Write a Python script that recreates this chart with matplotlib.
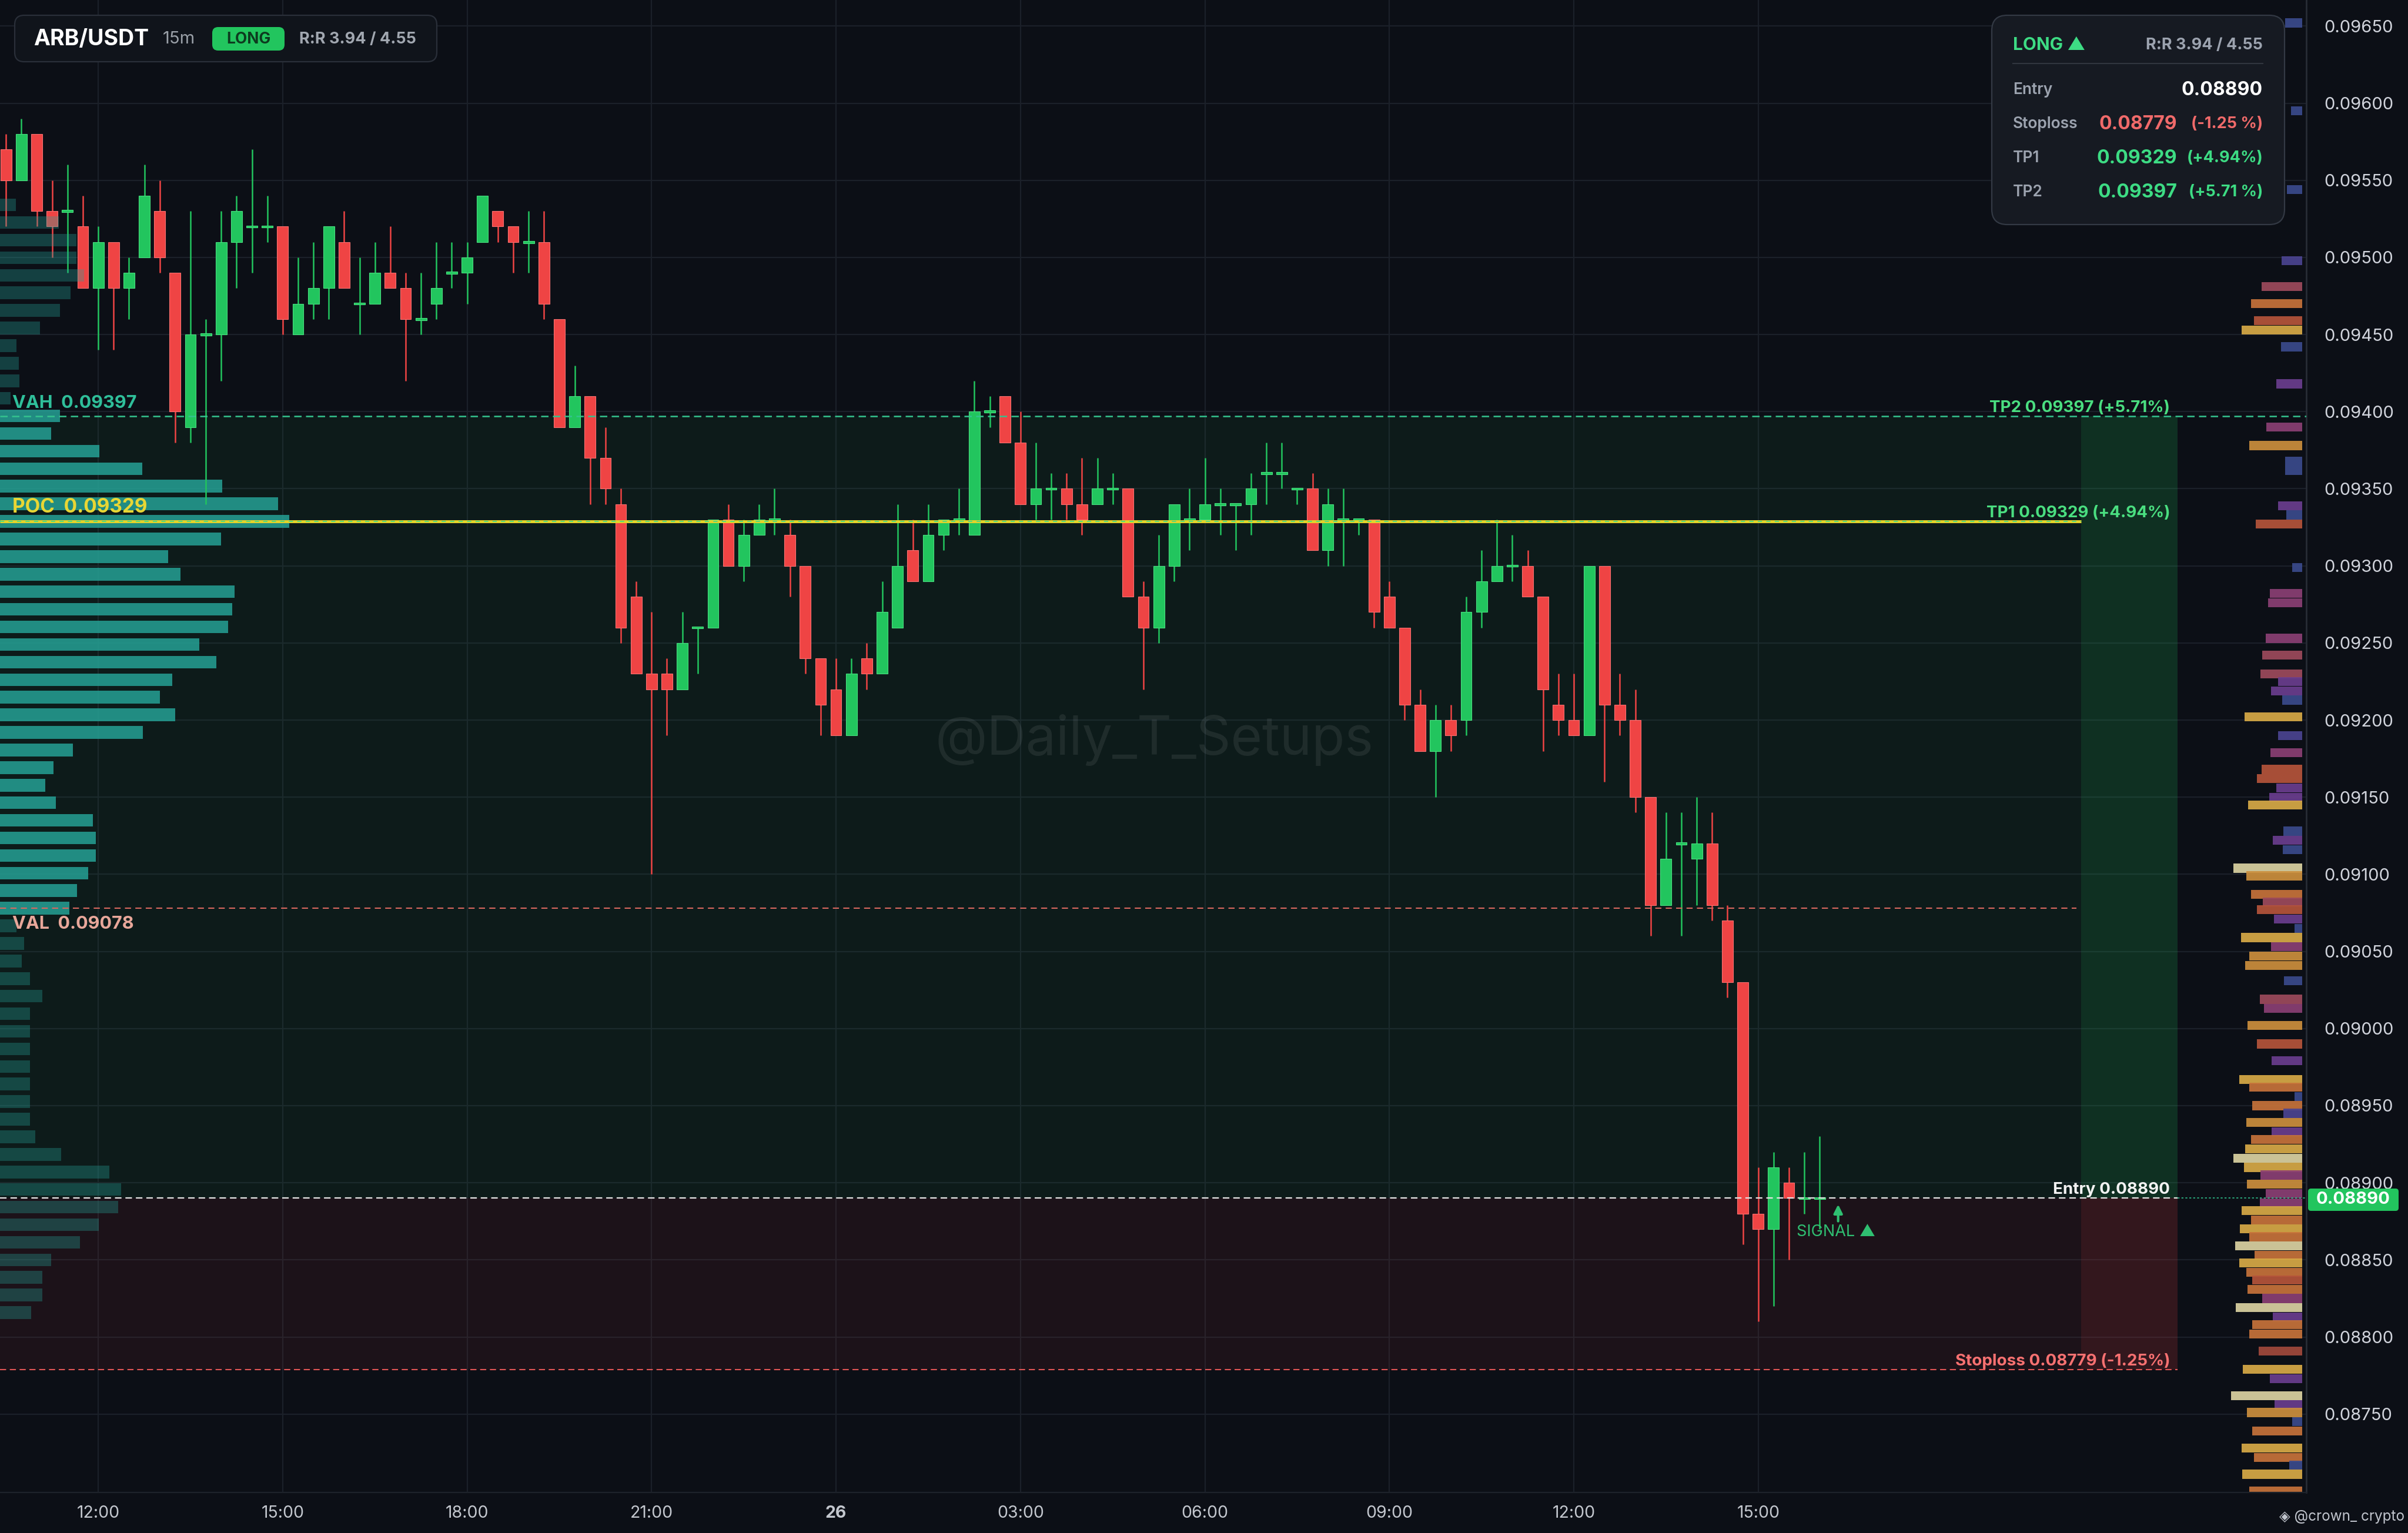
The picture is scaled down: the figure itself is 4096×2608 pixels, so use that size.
import numpy as np
import matplotlib
matplotlib.use("Agg")
import matplotlib.pyplot as plt
from matplotlib.patches import FancyBboxPatch, Rectangle
from matplotlib.ticker import FixedLocator, FuncFormatter

plt.rcParams['font.family'] = ['Inter', 'DejaVu Sans']

BG = '#0c0f16'
GREEN = '#22c55e'
RED = '#ef4444'

# ---- data -------------------------------------------------------------
# 15m candles, first bar 10:30, bar 0 = 12:00
first_bar = -6
opens = [0.0957, 0.0955, 0.0958, 0.0953, 0.0953, 0.0952, 0.0948, 0.0951, 0.0948, 0.0950,
         0.0953, 0.0949, 0.0939, 0.0945, 0.0945, 0.0951, 0.0952, 0.0952, 0.0952, 0.0945,
         0.0947, 0.0948, 0.0951, 0.0947, 0.0947, 0.0949, 0.0948, 0.0946, 0.0947, 0.0949,
         0.0949, 0.0951, 0.0953, 0.0952, 0.0951, 0.0951, 0.0946, 0.0939, 0.0941, 0.0937,
         0.0934, 0.0928, 0.0923, 0.0923, 0.0922, 0.0926, 0.0926, 0.0933, 0.0930, 0.0932,
         0.0933, 0.0932, 0.0930, 0.0924, 0.0922, 0.0919, 0.0924, 0.0923, 0.0926, 0.0931,
         0.0929, 0.0932, 0.0933, 0.0932, 0.0940, 0.0941, 0.0938, 0.0934, 0.0935, 0.0935,
         0.0934, 0.0934, 0.0935, 0.0935, 0.0928, 0.0926, 0.0930, 0.0933, 0.0933, 0.0934,
         0.0934, 0.0934, 0.0936, 0.0936, 0.0935, 0.0935, 0.0931, 0.0933, 0.0933, 0.0933,
         0.0928, 0.0926, 0.0921, 0.0918, 0.0920, 0.0920, 0.0927, 0.0929, 0.0930, 0.0930,
         0.0928, 0.0921, 0.0920, 0.0919, 0.0930, 0.0921, 0.0920, 0.0915, 0.0908, 0.0912,
         0.0911, 0.0912, 0.0907, 0.0903, 0.0888, 0.0887, 0.0890, 0.0889, 0.0889]
highs = [0.0958, 0.0959, 0.0958, 0.0955, 0.0956, 0.0954, 0.0952, 0.0951, 0.0950, 0.0956,
         0.0955, 0.0949, 0.0953, 0.0946, 0.0953, 0.0954, 0.0957, 0.0954, 0.0952, 0.0950,
         0.0951, 0.0952, 0.0953, 0.0950, 0.0951, 0.0952, 0.0949, 0.0949, 0.0951, 0.0951,
         0.0951, 0.0954, 0.0953, 0.0952, 0.0953, 0.0953, 0.0946, 0.0943, 0.0941, 0.0939,
         0.0935, 0.0929, 0.0927, 0.0924, 0.0927, 0.0926, 0.0933, 0.0934, 0.0933, 0.0934,
         0.0935, 0.0933, 0.0930, 0.0924, 0.0924, 0.0924, 0.0925, 0.0929, 0.0934, 0.0933,
         0.0934, 0.0933, 0.0935, 0.0942, 0.0941, 0.0941, 0.0940, 0.0938, 0.0936, 0.0936,
         0.0937, 0.0937, 0.0936, 0.0935, 0.0929, 0.0932, 0.0934, 0.0935, 0.0937, 0.0935,
         0.0934, 0.0936, 0.0938, 0.0938, 0.0935, 0.0936, 0.0935, 0.0935, 0.0933, 0.0933,
         0.0929, 0.0926, 0.0922, 0.0921, 0.0921, 0.0928, 0.0931, 0.0933, 0.0932, 0.0931,
         0.0928, 0.0923, 0.0923, 0.0930, 0.0930, 0.0923, 0.0922, 0.0915, 0.0914, 0.0914,
         0.0915, 0.0914, 0.0908, 0.0903, 0.0891, 0.0892, 0.0891, 0.0892, 0.0893]
lows = [0.0952, 0.0955, 0.0952, 0.0950, 0.0949, 0.0948, 0.0944, 0.0944, 0.0946, 0.0950,
        0.0949, 0.0938, 0.0938, 0.0934, 0.0942, 0.0948, 0.0949, 0.0951, 0.0945, 0.0945,
        0.0946, 0.0946, 0.0948, 0.0945, 0.0947, 0.0948, 0.0942, 0.0945, 0.0946, 0.0948,
        0.0947, 0.0951, 0.0951, 0.0949, 0.0949, 0.0946, 0.0939, 0.0939, 0.0934, 0.0934,
        0.0925, 0.0923, 0.0910, 0.0919, 0.0922, 0.0923, 0.0926, 0.0930, 0.0929, 0.0932,
        0.0932, 0.0928, 0.0923, 0.0919, 0.0919, 0.0919, 0.0922, 0.0923, 0.0926, 0.0929,
        0.0929, 0.0931, 0.0932, 0.0932, 0.0939, 0.0938, 0.0934, 0.0933, 0.0933, 0.0933,
        0.0932, 0.0934, 0.0934, 0.0928, 0.0922, 0.0925, 0.0929, 0.0931, 0.0933, 0.0932,
        0.0931, 0.0932, 0.0934, 0.0935, 0.0934, 0.0931, 0.0930, 0.0930, 0.0932, 0.0926,
        0.0926, 0.0920, 0.0918, 0.0915, 0.0918, 0.0919, 0.0926, 0.0929, 0.0929, 0.0928,
        0.0918, 0.0919, 0.0919, 0.0919, 0.0916, 0.0919, 0.0914, 0.0906, 0.0908, 0.0906,
        0.0908, 0.0907, 0.0902, 0.0886, 0.0881, 0.0882, 0.0885, 0.0888, 0.0887]
closes = [0.0955, 0.0958, 0.0953, 0.0952, 0.0953, 0.0948, 0.0951, 0.0948, 0.0949, 0.0954,
          0.0950, 0.0940, 0.0945, 0.0945, 0.0951, 0.0953, 0.0952, 0.0952, 0.0946, 0.0947,
          0.0948, 0.0952, 0.0948, 0.0947, 0.0949, 0.0948, 0.0946, 0.0946, 0.0948, 0.0949,
          0.0950, 0.0954, 0.0952, 0.0951, 0.0951, 0.0947, 0.0939, 0.0941, 0.0937, 0.0935,
          0.0926, 0.0923, 0.0922, 0.0922, 0.0925, 0.0926, 0.0933, 0.0930, 0.0932, 0.0933,
          0.0933, 0.0930, 0.0924, 0.0921, 0.0919, 0.0923, 0.0923, 0.0927, 0.0930, 0.0929,
          0.0932, 0.0933, 0.0933, 0.0940, 0.0940, 0.0938, 0.0934, 0.0935, 0.0935, 0.0934,
          0.0933, 0.0935, 0.0935, 0.0928, 0.0926, 0.0930, 0.0934, 0.0933, 0.0934, 0.0934,
          0.0934, 0.0935, 0.0936, 0.0936, 0.0935, 0.0931, 0.0934, 0.0933, 0.0933, 0.0927,
          0.0926, 0.0921, 0.0918, 0.0920, 0.0919, 0.0927, 0.0929, 0.0930, 0.0930, 0.0928,
          0.0922, 0.0920, 0.0919, 0.0930, 0.0921, 0.0920, 0.0915, 0.0908, 0.0911, 0.0912,
          0.0912, 0.0908, 0.0903, 0.0888, 0.0887, 0.0891, 0.0889, 0.0889, 0.0889]

time_ticks = [0, 12, 24, 36, 48, 60, 72, 84, 96, 108]
time_labels = ['12:00', '15:00', '18:00', '21:00', '26', '03:00', '06:00', '09:00', '12:00', '15:00']

entry = 0.08890
stoploss = 0.08779
tp1 = 0.09329
tp2 = 0.09397
vah = 0.09397
poc = 0.09329
val = 0.09078

# session volume profile (left), top bin first
vp_top = 0.09534
vp_step = 0.000114
vp_vol = [80, 300, 390, 390, 430, 360, 305, 205, 85, 95, 100, 55, 305,
          262, 508, 727, 1133, 1418, 1475, 1127, 857, 920, 1197, 1185, 1163, 1017, 1105,
          878, 815, 893, 730, 373, 272, 232, 285, 475, 488, 488, 450, 392, 355,
          85, 122, 110, 153, 217, 152, 152, 152, 152, 152, 152, 152, 180, 312, 558,
          617, 603, 505, 407, 262, 215, 215, 158]

# order-book style heat profile (right edge)
heat_price = [0.09652, 0.09595, 0.09544, 0.09498, 0.09481, 0.09470, 0.09459, 0.09453, 0.09442, 0.09418,
              0.09390, 0.09378, 0.09368, 0.09362, 0.09339, 0.09333, 0.09327, 0.09299, 0.09282, 0.09276,
              0.09253, 0.09242, 0.09230, 0.09225, 0.09219, 0.09213, 0.09202, 0.09190, 0.09179, 0.09168,
              0.09162, 0.09156, 0.09150, 0.09145, 0.09128, 0.09122, 0.09116, 0.09104, 0.09099, 0.09087,
              0.09082, 0.09077, 0.09071, 0.09065, 0.09059, 0.09053, 0.09047, 0.09041, 0.09031, 0.09019,
              0.09013, 0.09002, 0.08990, 0.08979, 0.08967, 0.08962, 0.08956, 0.08950, 0.08945, 0.08939,
              0.08933, 0.08928, 0.08922, 0.08916, 0.08910, 0.08905, 0.08899, 0.08893, 0.08887, 0.08882,
              0.08876, 0.08870, 0.08865, 0.08859, 0.08853, 0.08848, 0.08842, 0.08837, 0.08831, 0.08825,
              0.08819, 0.08813, 0.08808, 0.08802, 0.08791, 0.08779, 0.08773, 0.08762, 0.08756, 0.08751,
              0.08745, 0.08739, 0.08728, 0.08722, 0.08717, 0.08711, 0.08700]
heat_size = [29, 19, 26, 35, 69, 87, 82, 103, 36, 44,
             61, 90, 29, 29, 41, 27, 79, 17, 55, 58,
             62, 68, 71, 41, 53, 34, 98, 41, 54, 69,
             77, 44, 56, 92, 32, 50, 33, 117, 95, 87,
             67, 77, 48, 13, 104, 53, 90, 97, 31, 72,
             65, 93, 77, 52, 107, 90, 13, 85, 32, 95,
             52, 87, 97, 117, 99, 71, 94, 62, 72, 103,
             87, 106, 90, 114, 81, 107, 95, 85, 93, 68,
             113, 50, 85, 90, 74, 101, 55, 121, 47, 94,
             17, 85, 103, 82, 22, 102, 90]
heat_kind = ['b', 'b', 'b', 'bp', 'mr', 'o', 'or', 'g', 'b', 'p',
             'm', 'go', 'b', 'b', 'p', 'b', 'or', 'b', 'm', 'm',
             'm', 'mr', 'mr', 'p', 'p', 'b', 'g', 'bp', 'm', 'or',
             'or', 'p', 'p', 'g', 'b', 'p', 'b', 'c', 'go', 'o',
             'mr', 'or', 'p', 'b', 'g', 'm', 'go', 'go', 'b', 'mr',
             'm', 'go', 'or', 'p', 'g', 'o', 'b', 'o', 'bp', 'go',
             'p', 'o', 'g', 'c', 'g', 'm', 'go', 'm', 'm', 'g',
             'o', 'g', 'o', 'c', 'o', 'g', 'o', 'or', 'o', 'm',
             'c', 'p', 'o', 'o', 'rb', 'g', 'p', 'c', 'p', 'go',
             'b', 'o', 'g', 'o', 'b', 'g', 'o']
heat_colors = {'b': '#3a4a8c', 'bp': '#4b4490', 'p': '#6a3d8e', 'm': '#8b3f74',
               'mr': '#9d4a5c', 'or': '#b5543b', 'o': '#c7733a', 'go': '#cc8f3d',
               'g': '#d8aa46', 'c': '#dcd3a2', 'rb': '#a2493c'}

# ---- layout -----------------------------------------------------------
X0, X1 = -6.394, 143.66
Y0, Y1 = 0.086992, 0.096669
ZONE_END = 135.3
STRIP_X = 129.0
LABEL_X = 134.8
HEAT_RIGHT = 143.4
PX = 26.15          # pixels per bar

fig = plt.figure(figsize=(40.96, 26.08), dpi=100, facecolor=BG)
ax = fig.add_axes([0, 69 / 2608, 3923 / 4096, 2539 / 2608])
ax.set_facecolor(BG)
ax.set_xlim(X0, X1)
ax.set_ylim(Y0, Y1)

price_ticks = np.round(np.arange(0.0875, 0.09651, 0.0005), 5)
ax.yaxis.tick_right()
ax.yaxis.set_major_locator(FixedLocator(price_ticks))
ax.yaxis.set_major_formatter(FuncFormatter(lambda v, _: f'{v:.5f}'))
ax.set_xticks(time_ticks)
ax.set_xticklabels(time_labels)
for lab in ax.get_xticklabels():
    if lab.get_text() == '26':
        lab.set_fontweight('bold')
ax.tick_params(axis='y', length=0, pad=22, labelsize=21, labelcolor='#d1d4dc')
ax.tick_params(axis='x', length=0, pad=16, labelsize=20.5, labelcolor='#c3c7ce')
ax.grid(True, color='#1b2029', lw=1.6)
ax.set_axisbelow(True)
for s in ['top', 'left']:
    ax.spines[s].set_visible(False)
ax.spines['right'].set_color('#272c35')
ax.spines['right'].set_linewidth(2)
ax.spines['bottom'].set_color('#1d222a')
ax.spines['bottom'].set_linewidth(1.6)

# trade zones
ax.add_patch(Rectangle((X0, entry), ZONE_END - X0, tp2 - entry, facecolor=GREEN, alpha=0.065, lw=0, zorder=1))
ax.add_patch(Rectangle((STRIP_X, entry), ZONE_END - STRIP_X, tp2 - entry, facecolor=GREEN, alpha=0.13, lw=0, zorder=1))
ax.add_patch(Rectangle((X0, stoploss), ZONE_END - X0, entry - stoploss, facecolor=RED, alpha=0.07, lw=0, zorder=1))
ax.add_patch(Rectangle((STRIP_X, stoploss), ZONE_END - STRIP_X, entry - stoploss, facecolor=RED, alpha=0.11, lw=0, zorder=1))

# left volume profile
vp_price = vp_top - np.arange(len(vp_vol)) * vp_step
vp_w = np.array(vp_vol) / max(vp_vol) * 18.8
in_va = (vp_price <= vah + 1e-5) & (vp_price >= val - 1e-5)
ax.barh(vp_price[in_va], vp_w[in_va], height=vp_step * 0.72, left=X0, color='#26a69a', alpha=0.82, lw=0, zorder=2)
ax.barh(vp_price[~in_va], vp_w[~in_va], height=vp_step * 0.72, left=X0, color='#26a69a', alpha=0.33, lw=0, zorder=4.6)

# right heat profile
hw = np.array(heat_size[:len(heat_price)]) / PX
hc = [heat_colors[k] for k in heat_kind[:len(heat_price)]]
ax.barh(heat_price, hw, height=0.000058, left=HEAT_RIGHT - hw, color=hc, alpha=0.92, lw=0, zorder=2)

# watermark
ax.text(68.7, 0.09187, '@Daily_T_Setups', fontsize=66, color='white', alpha=0.08,
        ha='center', va='center', zorder=2)

# candles
o = np.array(opens); h = np.array(highs); l = np.array(lows); c = np.array(closes)
x = np.arange(len(o)) + first_bar
up = c >= o
cols = np.where(up, GREEN, RED)
edges = np.where(up, '#4ade80', '#f87171')
doji = np.abs(c - o) < 1e-7
body_h = np.where(doji, 0.000014, np.abs(c - o))
body_b = np.where(doji, o - 0.000007, np.minimum(o, c))
ax.vlines(x, l, h, colors=cols, lw=1.8, zorder=4)
ax.bar(x, body_h, bottom=body_b, width=0.72, color=cols, edgecolor=edges, linewidth=0.8, zorder=4.2)

# levels
ax.plot([X0, X1], [tp2, tp2], color='#34c38f', lw=1.8, ls=(0, (5, 3)), zorder=5)
ax.plot([X0, STRIP_X], [poc, poc], color='#e3d22a', lw=3.6, solid_capstyle='butt', zorder=5)
ax.plot([X0, STRIP_X], [tp1, tp1], color='#4ade80', lw=1.3, ls=(0, (4, 4)), zorder=5.1)
ax.plot([X0, 128.7], [val, val], color='#d9675f', lw=1.5, ls=(0, (5, 3.5)), zorder=5)
ax.plot([X0, ZONE_END], [entry, entry], color='#e6e6e6', lw=1.6, ls=(0, (5, 3)), zorder=5)
ax.plot([ZONE_END, X1], [entry, entry], color='#2fbf8a', lw=1.2, ls=(0, (2, 2)), zorder=5)
ax.plot([X0, ZONE_END], [stoploss, stoploss], color='#e05555', lw=1.5, ls=(0, (5, 3)), zorder=5)

lab_kw = dict(ha='right', va='bottom', fontsize=20, fontweight='bold', zorder=6)
ax.text(LABEL_X, tp2 + 0.000004, 'TP2 0.09397 (+5.71%)', color='#4ade80', **lab_kw)
ax.text(LABEL_X, tp1 + 0.000004, 'TP1 0.09329 (+4.94%)', color='#4ade80', **lab_kw)
ax.text(LABEL_X, entry + 0.000004, 'Entry 0.08890', color='#f2f2f2', **lab_kw)
ax.text(LABEL_X, stoploss + 0.000004, 'Stoploss 0.08779 (-1.25%)', color='#f87171', **lab_kw)

ax.text(-5.6, vah + 0.00003, 'VAH  0.09397', color='#2fbf9a', fontsize=22, fontweight='bold', va='bottom', zorder=6)
ax.text(-5.6, poc + 0.00003, 'POC  0.09329', color='#e8d634', fontsize=24, fontweight='bold', va='bottom', zorder=6)
ax.text(-5.6, val - 0.00005, 'VAL  0.09078', color='#e8a79a', fontsize=22, fontweight='bold', va='top', zorder=6)

# signal marker
ax.annotate('', xy=(113.2, 0.08887), xytext=(113.2, 0.08874),
            arrowprops=dict(arrowstyle='-|>', color='#2fbf71', lw=3, mutation_scale=22), zorder=6)
ax.text(110.5, 0.08868, 'SIGNAL ▲', color='#2fbf71', fontsize=19.5, va='center', ha='left', zorder=6)

# ---- overlay (pixel coordinates) --------------------------------------
ov = fig.add_axes([0, 0, 1, 1], zorder=10)
ov.set_xlim(0, 4096)
ov.set_ylim(2608, 0)
ov.axis('off')
ov.patch.set_alpha(0)

ov.add_patch(FancyBboxPatch((25, 26), 718, 79, boxstyle='round,pad=0,rounding_size=16',
                            fc='#10141b', ec='#2a2f39', lw=1.6))
ov.text(57, 67, 'ARB/USDT', color='white', fontsize=27, fontweight='bold', va='center')
ov.text(277, 67, '15m', color='#9aa0a8', fontsize=21, va='center')
ov.add_patch(FancyBboxPatch((361, 46), 123, 40, boxstyle='round,pad=0,rounding_size=10',
                            fc=GREEN, ec='none'))
ov.text(422.5, 67, 'LONG', color='#0d3b1f', fontsize=19, fontweight='bold', ha='center', va='center')
ov.text(509, 67, 'R:R 3.94 / 4.55', color='#a1a7b0', fontsize=19.5, fontweight='bold', va='center')

ov.add_patch(FancyBboxPatch((3388, 26), 498, 356, boxstyle='round,pad=0,rounding_size=26',
                            fc='#161a22', ec='#333944', lw=1.6))
ov.text(3424, 77, 'LONG ▲', color='#3ddc84', fontsize=21.5, fontweight='bold', va='center')
ov.text(3849, 77, 'R:R 3.94 / 4.55', color='#9ca3af', fontsize=19.5, fontweight='bold', va='center', ha='right')
ov.plot([3424, 3849], [108, 108], color='#30363f', lw=1.5)
rows = [('Entry', 153, '0.08890', '#ffffff', ''),
        ('Stoploss', 211, '0.08779', '#f06a6a', '(-1.25 %)'),
        ('TP1', 269, '0.09329', '#3ddc84', '(+4.94%)'),
        ('TP2', 327, '0.09397', '#3ddc84', '(+5.71 %)')]
for name, yy, value, col, pct in rows:
    ov.text(3424, yy, name, color='#9ca3af', fontsize=19, fontweight='semibold', va='center')
    if pct:
        ov.text(3703, yy, value, color=col, fontsize=23, fontweight='bold', va='center', ha='right')
        ov.text(3849, yy, pct, color=col, fontsize=19.5, fontweight='bold', va='center', ha='right')
    else:
        ov.text(3849, yy, value, color=col, fontsize=23, fontweight='bold', va='center', ha='right')

ov.add_patch(FancyBboxPatch((3926, 2022), 154, 38, boxstyle='round,pad=0,rounding_size=5',
                            fc=GREEN, ec='none'))
ov.text(4003, 2041, '0.08890', color='white', fontsize=21, fontweight='bold', ha='center', va='center')

ov.text(4090, 2581, '◈ @crown_ crypto', color='#c0c4cc', fontsize=17.5, ha='right', va='center')

fig.savefig('out.png', dpi=100, facecolor=BG)
